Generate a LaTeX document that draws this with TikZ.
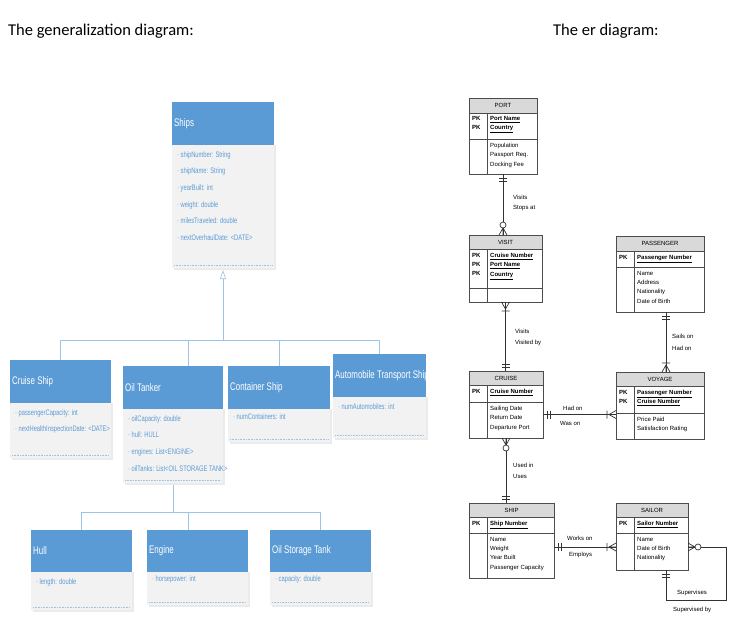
\documentclass[tikz,border=0pt]{standalone}
\usepackage{fontspec}
\setmainfont{Liberation Sans}
\newfontfamily\umlfont[FakeStretch=0.72]{Liberation Sans}
\newfontfamily\capfont{Carlito}
\usetikzlibrary{arrows.meta, positioning}
\definecolor{umlblue}{HTML}{5B9BD5}
\definecolor{umlbody}{HTML}{F2F2F2}
\definecolor{umlline}{HTML}{9DC3E6}
\definecolor{hdrgray}{HTML}{D9D9D9}
\tikzset{
    ent/.style={draw=black!70, line width=0.6pt, inner sep=0pt, outer sep=0pt},
    ertext/.style={font=\fontsize{6}{9.3}\selectfont, inner sep=0pt, align=left},
    lbl/.style={font=\fontsize{6}{7}\selectfont, inner sep=0pt, anchor=west},
    rel/.style={draw=black!80, line width=0.7pt},
    gen/.style={draw=umlline, line width=0.6pt},
    umltext/.style={font=\umlfont\fontsize{8}{16.7}\selectfont, text=umlblue, inner sep=0pt, align=left, anchor=north west},
}
% er entity: name, x, y, width, header bottom, key bottom, bottom, title
\newcommand{\erent}[8]{%
    \fill[hdrgray] (#2,#3) rectangle (#2+#4,#5);
    \node[ent, anchor=north west, minimum width=#4, minimum height=#7-#3] (#1) at (#2,#3) {};
    \draw[ent] (#2,#5) -- ++(#4,0) (#2,#6) -- ++(#4,0) (#2+18,#5) -- (#2+18,#7);
    \node[ertext] at (#2+#4/2,#3/2+#5/2) {#8};
}
% crow's foot ends
\newcommand{\erone}[2]{\begin{scope}[shift={(#1)},rotate=#2]
    \draw[rel] (4,-4) -- (4,4) (7,-4) -- (7,4);\end{scope}}
\newcommand{\eronemany}[2]{\begin{scope}[shift={(#1)},rotate=#2]
    \draw[rel] (0,-4) -- (7,0) -- (0,4) (0,0) -- (7,0) (9,-4) -- (9,4);\end{scope}}
\newcommand{\erzeromany}[2]{\begin{scope}[shift={(#1)},rotate=#2]
    \draw[rel] (0,-4) -- (7,0) -- (0,4) (0,0) -- (7,0);
    \draw[rel, fill=white] (10,0) circle (3);\end{scope}}
% uml class: name, x, y, width, header bottom, bottom, title, attributes
\newcommand{\umlclass}[8]{%
    \fill[black!8] (#2+2,#5) rectangle (#2+#4+2,#6+2);
    \fill[umlbody] (#2,#5) rectangle (#2+#4,#6);
    \fill[umlblue] (#2,#3) rectangle (#2+#4,#5);
    \node[inner sep=0pt, outer sep=0pt, anchor=north west, minimum width=#4, minimum height=#6-#3] (#1) at (#2,#3) {};
    \draw[umlline, dash pattern=on 1pt off 0.6pt, line width=0.8pt] (#2+2,#6-3) -- (#2+#4-2,#6-3);
    \node[anchor=west, inner sep=0pt, text=white, font=\umlfont\fontsize{11}{12}\selectfont] at (#2+2,#3/2+#5/2) {#7};
    \node[umltext] at (#2+5,#5+6) {#8};
}

\begin{document}
\begin{tikzpicture}[x=1pt, y=-1pt]
    \useasboundingbox (0,0) rectangle (735,632);

    \node[anchor=west, inner sep=0pt, font=\capfont\fontsize{16.5}{18}\selectfont] (gtitle) at (8,31) {The generalization diagram:};
    \node[anchor=west, inner sep=0pt, font=\capfont\fontsize{16.5}{18}\selectfont] (etitle) at (553,31) {The er diagram:};

    % generalization
    \umlclass{ships}{172}{102}{102}{145}{268}{Ships}{· shipNumber: String\\· shipName: String\\· yearBuilt: int\\· weight: double\\· milesTraveled: double\\· nextOverhaulDate: <DATE>}
    \umlclass{cruiseship}{10}{360}{101}{403}{458}{Cruise Ship}{· passengerCapacity: int\\· nextHealthInspectionDate: <DATE>}
    \umlclass{tanker}{123}{366}{100}{409}{483}{Oil Tanker}{· oilCapacity: double\\· hull: HULL\\· engines: List<ENGINE>\\· oilTanks: List<OIL STORAGE TANK>}
    \umlclass{container}{228}{366}{102}{409}{442}{Container Ship}{\\[-12pt]· numContainers: int}
    \umlclass{autoship}{333}{354}{93}{397}{438}{Automobile Transport Ship}{· numAutomobiles: int}
    \umlclass{hull}{31}{530}{101}{572}{610}{Hull}{· length: double}
    \umlclass{engine}{147}{530}{101}{572}{605}{Engine}{\\[-13pt]· horsepower: int}
    \umlclass{oiltank}{270}{530}{101}{572}{605}{Oil Storage Tank}{\\[-13pt]· capacity: double}

    \coordinate (j1) at (223,340);
    \coordinate (j2) at (173,512);
    \draw[gen, {Triangle[open, length=9pt, width=6pt]}-] ([yshift=-2pt]ships.south) -- (j1);
    \draw[gen] (j1) -| (cruiseship.north)
        (j1) -| ([xshift=15pt]tanker.north)
        (j1) -| (container.north)
        (j1) -| (autoship.north);
    \draw[gen] ([yshift=-2pt]tanker.south) -- (j2);
    \draw[gen] (j2) -| (hull.north)
        (j2) -| ([xshift=-9pt]engine.north)
        (j2) -| (oiltank.north);

    % er diagram
    \erent{port}{469}{98}{68}{113}{139}{174}{PORT}
    \erent{visit}{469}{235}{73}{249}{288}{302}{VISIT}
    \erent{passenger}{616}{236}{88}{251}{267}{312}{PASSENGER}
    \erent{cruise}{469}{371}{74}{385}{402}{438}{CRUISE}
    \erent{voyage}{616}{372}{88}{386}{413}{439}{VOYAGE}
    \erent{ship}{469}{503}{85}{517}{533}{578}{SHIP}
    \erent{sailor}{616}{503}{72}{517}{533}{570}{SAILOR}

    \node[ertext, anchor=north west] at (472,116) {\textbf{PK}\\\textbf{PK}};
    \node[ertext, anchor=north west] at (490,116) {\textbf{\underline{Port Name}}\\\textbf{\underline{Country}}};
    \node[ertext, anchor=north west] at (490,143) {Population\\Passport Req.\\Docking Fee};
    \node[ertext, anchor=north west] at (472,253) {\textbf{PK}\\\textbf{PK}\\\textbf{PK}};
    \node[ertext, anchor=north west] at (490,253) {\textbf{\underline{Cruise Number}}\\\textbf{\underline{Port Name}}\\\textbf{\underline{Country}}};
    \node[ertext, anchor=north west] at (619,255) {\textbf{PK}};
    \node[ertext, anchor=north west] at (637,255) {\textbf{\underline{Passenger Number}}};
    \node[ertext, anchor=north west] at (637,271) {Name\\Address\\Nationality\\Date of Birth};
    \node[ertext, anchor=north west] at (472,389) {\textbf{PK}};
    \node[ertext, anchor=north west] at (490,389) {\textbf{\underline{Cruise Number}}};
    \node[ertext, anchor=north west] at (490,406) {Sailing Date\\Return Date\\Departure Port};
    \node[ertext, anchor=north west] at (619,390) {\textbf{PK}\\\textbf{PK}};
    \node[ertext, anchor=north west] at (637,390) {\textbf{\underline{Passenger Number}}\\\textbf{\underline{Cruise Number}}};
    \node[ertext, anchor=north west] at (637,417) {Price Paid\\Satisfaction Rating};
    \node[ertext, anchor=north west] at (472,521) {\textbf{PK}};
    \node[ertext, anchor=north west] at (490,521) {\textbf{\underline{Ship Number}}};
    \node[ertext, anchor=north west] at (490,537) {Name\\Weight\\Year Built\\Passenger Capacity};
    \node[ertext, anchor=north west] at (619,521) {\textbf{PK}};
    \node[ertext, anchor=north west] at (637,521) {\textbf{\underline{Sailor Number}}};
    \node[ertext, anchor=north west] at (637,537) {Name\\Date of Birth\\Nationality};

    \coordinate (loop) at (726,600);
    \draw[rel] (port.south) -- (port.south |- visit.north);
    \draw[rel] (visit.south) -- (visit.south |- cruise.north);
    \draw[rel] ([xshift=6pt]passenger.south) -- ([xshift=6pt]voyage.north);
    \draw[rel] ([yshift=-10pt]cruise.east) -- ([yshift=-10pt]cruise.east -| voyage.west);
    \draw[rel] (cruise.south) -- (cruise.south |- ship.north);
    \draw[rel] ([yshift=-6.5pt]ship.east) -- ([yshift=-6.5pt]ship.east -| sailor.west);
    \draw[rel] ([yshift=-10.5pt]sailor.east) -| (loop) -| ([xshift=14pt]sailor.south);

    \erone{port.south}{-90}
    \erzeromany{port.south |- visit.north}{90}
    \eronemany{visit.south}{-90}
    \erone{visit.south |- cruise.north}{90}
    \erone{[xshift=6pt]passenger.south}{-90}
    \eronemany{[xshift=6pt]voyage.north}{90}
    \erone{[yshift=-10pt]cruise.east}{0}
    \eronemany{[yshift=-10pt]cruise.east -| voyage.west}{180}
    \erzeromany{cruise.south}{-90}
    \erone{cruise.south |- ship.north}{90}
    \erone{[yshift=-6.5pt]ship.east}{0}
    \eronemany{[yshift=-6.5pt]ship.east -| sailor.west}{180}
    \erzeromany{[yshift=-10.5pt]sailor.east}{0}
    \erone{[xshift=14pt]sailor.south}{-90}

    \node[lbl] at (513,197) {Visits};
    \node[lbl] at (513,208) {Stops at};
    \node[lbl] at (515,331) {Visits};
    \node[lbl] at (515,343) {Visited by};
    \node[lbl] at (672,336) {Sails on};
    \node[lbl] at (672,348) {Had on};
    \node[lbl] at (563,408) {Had on};
    \node[lbl] at (560,423) {Was on};
    \node[lbl] at (513,465) {Used in};
    \node[lbl] at (513,476) {Uses};
    \node[lbl] at (567,538) {Works on};
    \node[lbl] at (569,555) {Employs};
    \node[lbl] at (677,593) {Supervises};
    \node[lbl] at (673,610) {Supervised by};
\end{tikzpicture}
\end{document}
